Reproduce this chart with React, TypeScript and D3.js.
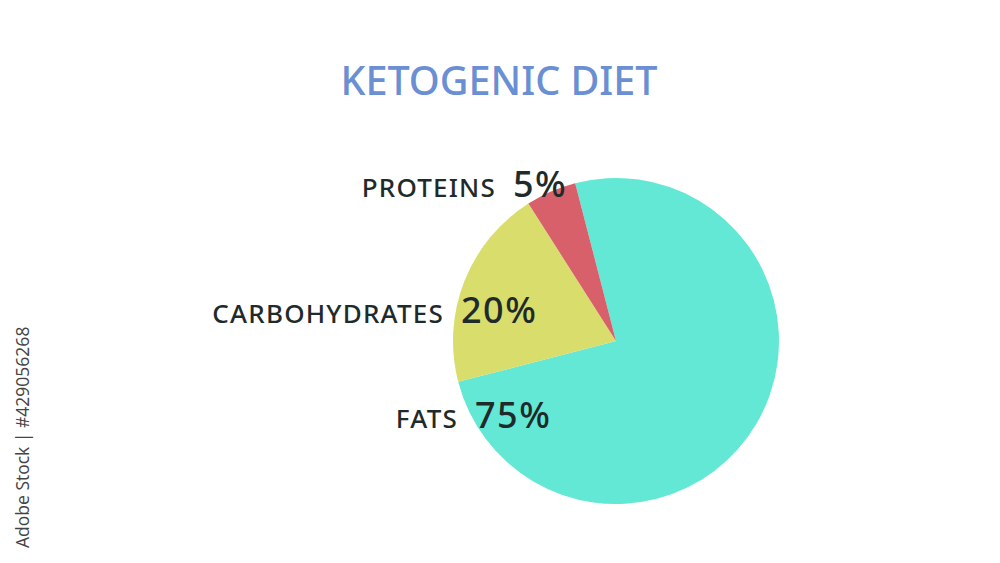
import * as d3 from "d3";

const categories = ["FATS", "CARBOHYDRATES", "PROTEINS"];
const shares = [75, 20, 5];
const colors = ["#63e8d5", "#d9dd6c", "#d8606a"];

// label anchor points (where the name ends and the percentage begins)
const labelSpots = [
	{ x: 467, y: 428 },
	{ x: 453, y: 323 },
	{ x: 505, y: 197 },
];

function App() {
	const width = 1000;
	const height = 563;
	const cx = 616;
	const cy = 341;
	const radius = 163;
	const start = (-14.5 * Math.PI) / 180;

	const pie = d3
		.pie<number>()
		.sort(null)
		.value((d) => d)
		.startAngle(start)
		.endAngle(start + 2 * Math.PI);
	const arc: any = d3.arc().innerRadius(0).outerRadius(radius);
	const slices = pie(shares);

	const font = "'Noto Sans', 'DejaVu Sans', sans-serif";

	return (
		<svg
			width={width}
			height={height}
			style={{ position: "absolute", left: 0, top: 0, background: "#fff" }}
		>
			<rect width={width} height={height} fill="#fff" />
			<text
				x={499}
				y={95}
				textAnchor="middle"
				fontFamily={font}
				fontSize={39.5}
				fontWeight={500}
				fill="#6a8fd2"
			>
				KETOGENIC DIET
			</text>
			<g transform={`translate(${cx}, ${cy})`}>
				{slices.map((s, i) => (
					<path key={categories[i]} d={arc(s)} fill={colors[i]} />
				))}
			</g>
			{categories.map((c, i) => (
				<g key={c} fontFamily={font} fill="#1f2b2a">
					<text
						x={labelSpots[i].x - 9}
						y={labelSpots[i].y}
						textAnchor="end"
						fontSize={26}
						fontWeight={500}
						letterSpacing={1.2}
					>
						{c}
					</text>
					<text
						x={labelSpots[i].x + 8}
						y={labelSpots[i].y}
						textAnchor="start"
						fontSize={36}
						fontWeight={500}
						letterSpacing={1.5}
					>
						{shares[i]}%
					</text>
				</g>
			))}
			<text
				transform="translate(29, 548) rotate(-90)"
				fontFamily="'Open Sans', sans-serif"
				fontSize={17.5}
				fill="#444"
			>
				Adobe Stock | #429056268
			</text>
		</svg>
	);
}

export default App;
